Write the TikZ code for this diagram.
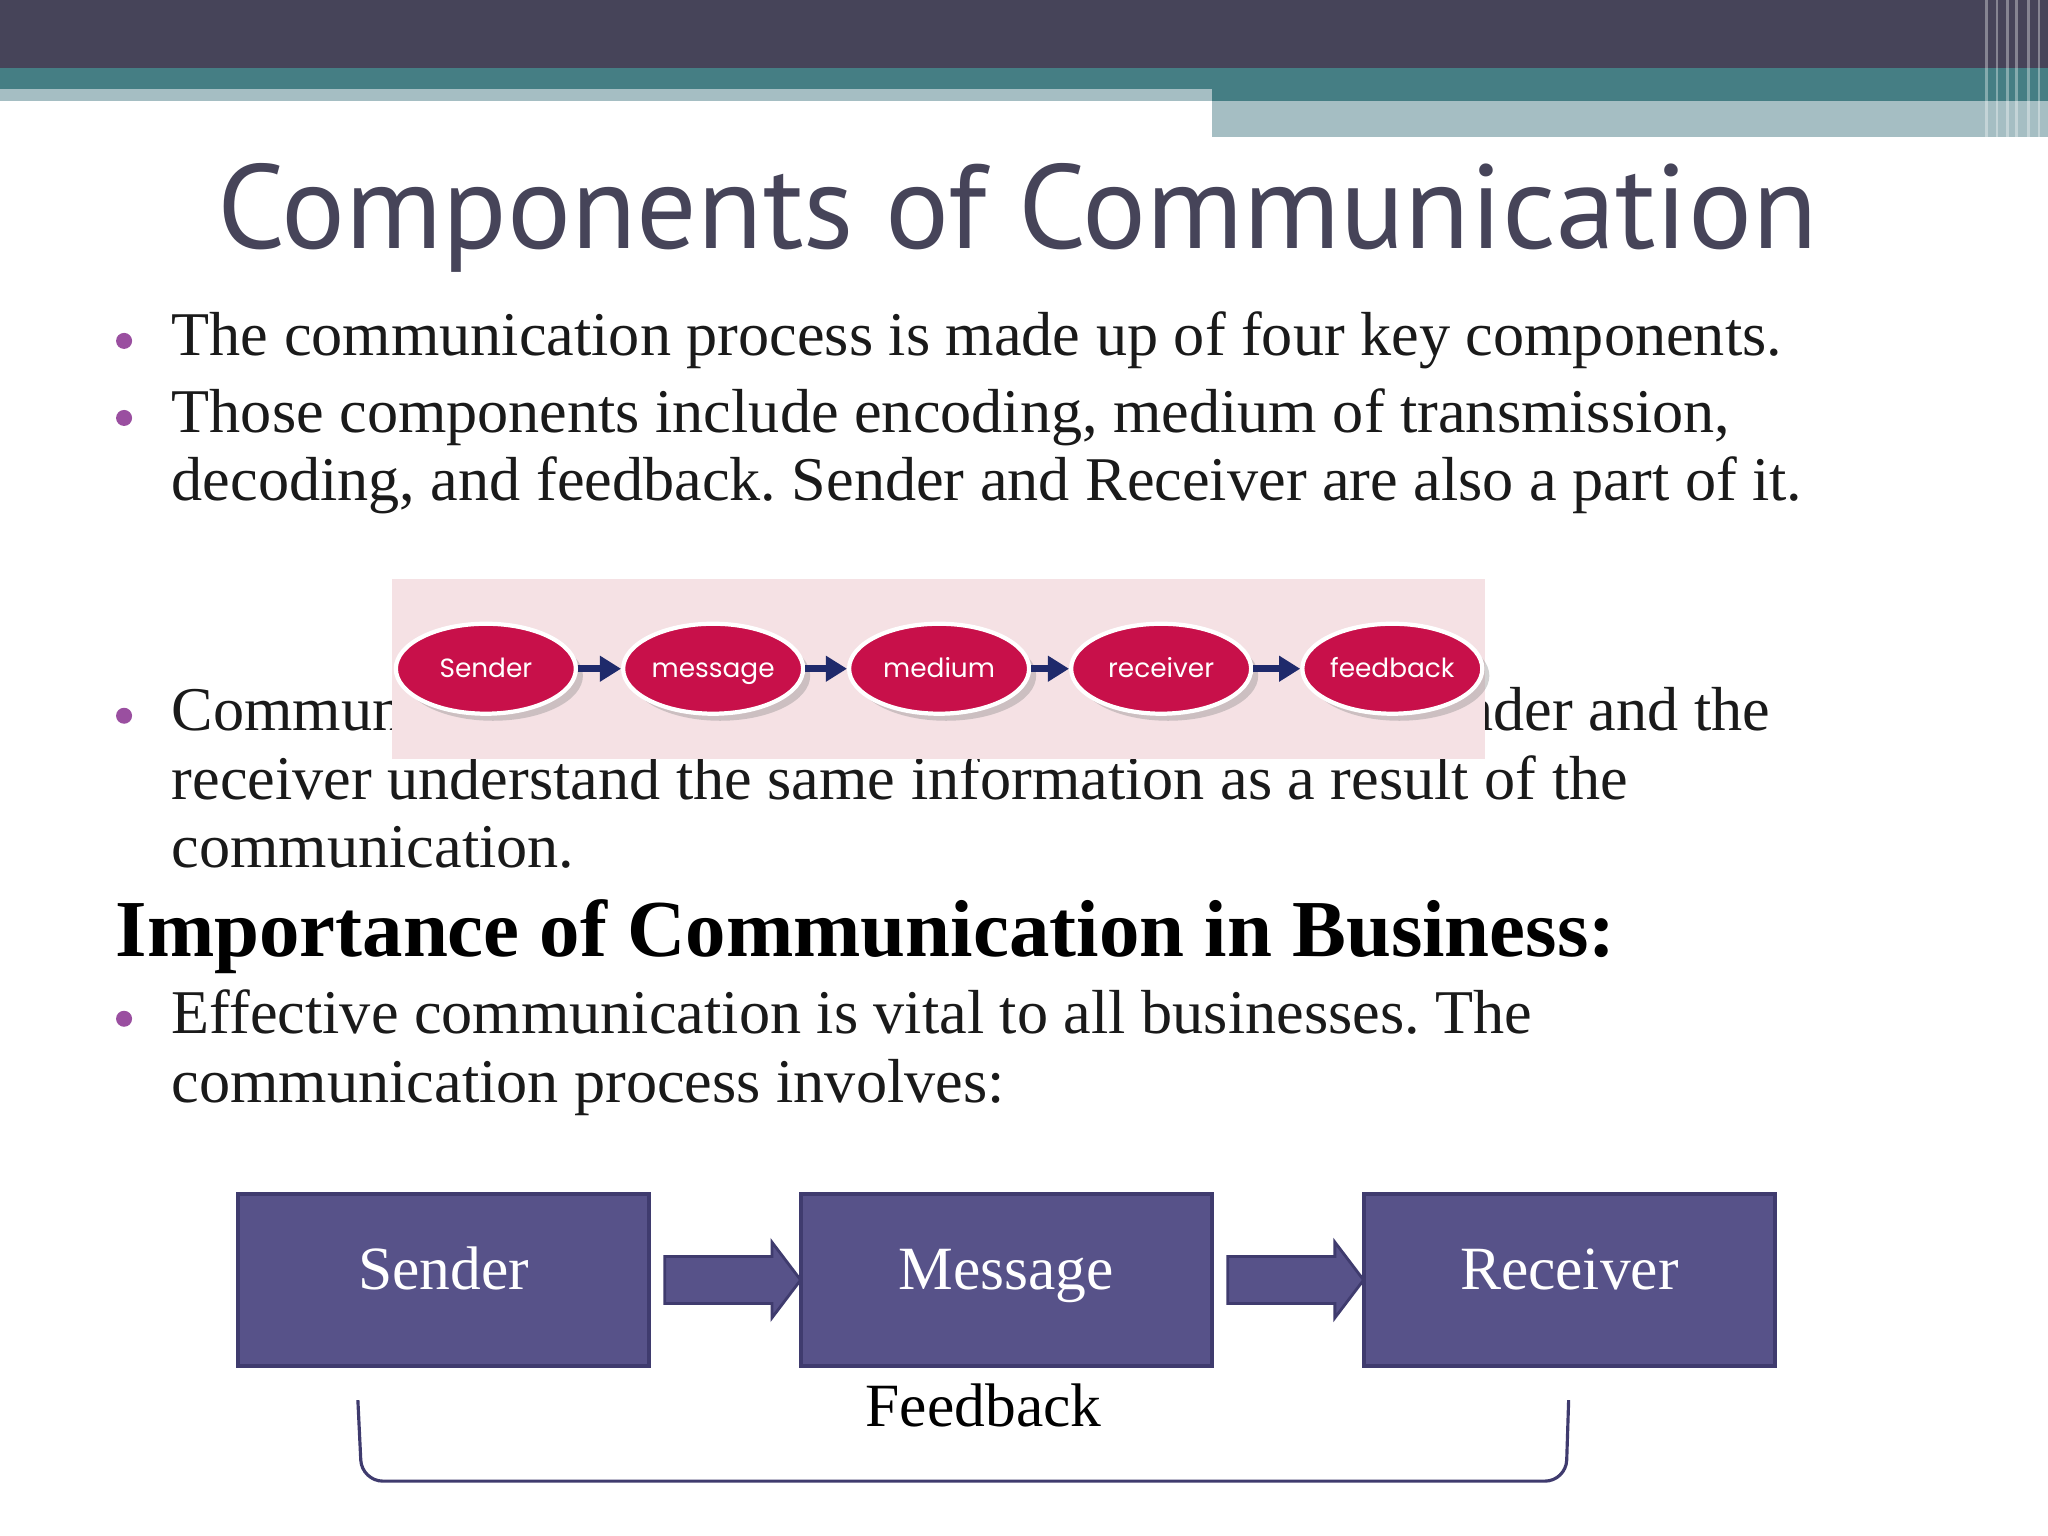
\documentclass[tikz,border=0pt]{standalone}
\usepackage{fontspec}
\setmainfont{Liberation Serif}
\newfontfamily\titlefont{PT Sans}
\newfontfamily\smallsans{Poppins}
\usetikzlibrary{shapes.geometric,arrows.meta,shadows}
\definecolor{hdark}{HTML}{464459}
\definecolor{hteal}{HTML}{457E84}
\definecolor{hlight}{HTML}{A5BEC3}
\definecolor{pinkbg}{HTML}{F5E1E4}
\definecolor{crim}{HTML}{C8104A}
\definecolor{navy}{HTML}{1F2A6B}
\definecolor{boxc}{HTML}{575289}
\definecolor{boxb}{HTML}{3F3B6E}
\definecolor{bul}{HTML}{9A4FA0}
\definecolor{txt}{HTML}{1A1A1A}
\frenchspacing
\begin{document}
\begin{tikzpicture}[x=0.013062cm,y=-0.013062cm,
  body/.style={anchor=base west,inner sep=0,font=\fontsize{17.7}{20}\selectfont,text=txt},
  bulletdot/.style={circle,fill=bul,inner sep=0,minimum size=0.16cm},
  oval/.style={ellipse,fill=crim,draw=white,line width=1.2pt,minimum width=1.8cm,minimum height=0.9cm,inner sep=0,text height=1.6ex,text depth=0.5ex,text=white,font=\smallsans\fontsize{7.5}{9}\selectfont,drop shadow={opacity=0.35,shadow xshift=2pt,shadow yshift=-2pt}},
  sarrow/.style={-{Triangle[length=6pt,width=7pt]},navy,line width=2pt},
  bbox/.style={draw=boxb,line width=1.2pt,fill=boxc,minimum width=4.11cm,minimum height=1.72cm,text height=1.6ex,text depth=0.4ex,text=white,font=\fontsize{17.5}{20}\selectfont,inner sep=0},
  blockarrow/.style={fill=boxc,draw=boxb,line width=0.8pt}]
\useasboundingbox (0,0) rectangle (1568,1176);
\fill[white] (0,0) rectangle (1568,1176);
% header
\fill[hdark] (0,0) rectangle (1568,52);
\fill[hteal] (0,52) rectangle (1568,77);
\fill[hlight] (0,68) rectangle (928,77);
\fill[hlight] (928,77) rectangle (1568,105);
\foreach \xx in {1520,1528,1536,1543,1552,1560}
  \fill[white,opacity=0.35] (\xx,0) rectangle +(2,105);
% title
\node[anchor=base,inner sep=0,text=hdark,font=\titlefont\fontsize{34}{38}\selectfont] (title) at (779,190) {Components of Communication};
% bullets
\node[bulletdot] (b1) at (95,261) {};
\node[bulletdot] (b2) at (95,320) {};
\node[bulletdot] (b3) at (95,548) {};
\node[bulletdot] (b4) at (95,780) {};
\node[body] (t1) at (131,272) {The communication process is made up of four key components.};
\node[body] (t2) at (131,331) {Those components include encoding, medium of transmission,};
\node[body] (t3) at (131,383) {decoding, and feedback. Sender and Receiver are also a part of it.};
\node[body] (t4) at (131,559) {Communication is successful only when both the sender and the};
\node[body] (t5) at (131,612) {receiver understand the same information as a result of the};
\node[body] (t6) at (131,664) {communication.};
\node[body,font=\bfseries\fontsize{23}{26}\selectfont,text=black] (h) at (88,732) {Importance of Communication in Business:};
\node[body] (t7) at (131,791) {Effective communication is vital to all businesses. The};
\node[body] (t8) at (131,844) {communication process involves:};
% pink image
\fill[pinkbg] (300,443) rectangle (1137,581);
\node[oval] (o1) at (372,512) {Sender};
\node[oval] (o2) at (546,512) {message};
\node[oval] (o3) at (719,512) {medium};
\node[oval] (o4) at (889,512) {receiver};
\node[oval] (o5) at (1066,512) {feedback};
\foreach \a/\b in {o1/o2,o2/o3,o3/o4,o4/o5} \draw[sarrow] (\a) -- (\b);
% boxes
\node[bbox] (s) at (339.5,980) {Sender};
\node[bbox] (m) at (770.5,980) {Message};
\node[bbox] (r) at (1201.5,980) {Receiver};
\draw[blockarrow] (509,962) -- (591,962) -- (591,951) -- (613,980) -- (591,1009) -- (591,998) -- (509,998) -- cycle;
\draw[blockarrow] (940,962) -- (1022,962) -- (1022,951) -- (1044,980) -- (1022,1009) -- (1022,998) -- (940,998) -- cycle;
\node[anchor=base,inner sep=0,font=\fontsize{17.5}{20}\selectfont,text=black] (fb) at (753,1092) {Feedback};
\coordinate (bl) at (274,1072);
\coordinate (br) at (1201,1072);
\draw[boxb,line width=0.9pt,rounded corners=6] (bl) -- (277,1134) -- (1199,1134) -- (br);
\end{tikzpicture}
\end{document}
